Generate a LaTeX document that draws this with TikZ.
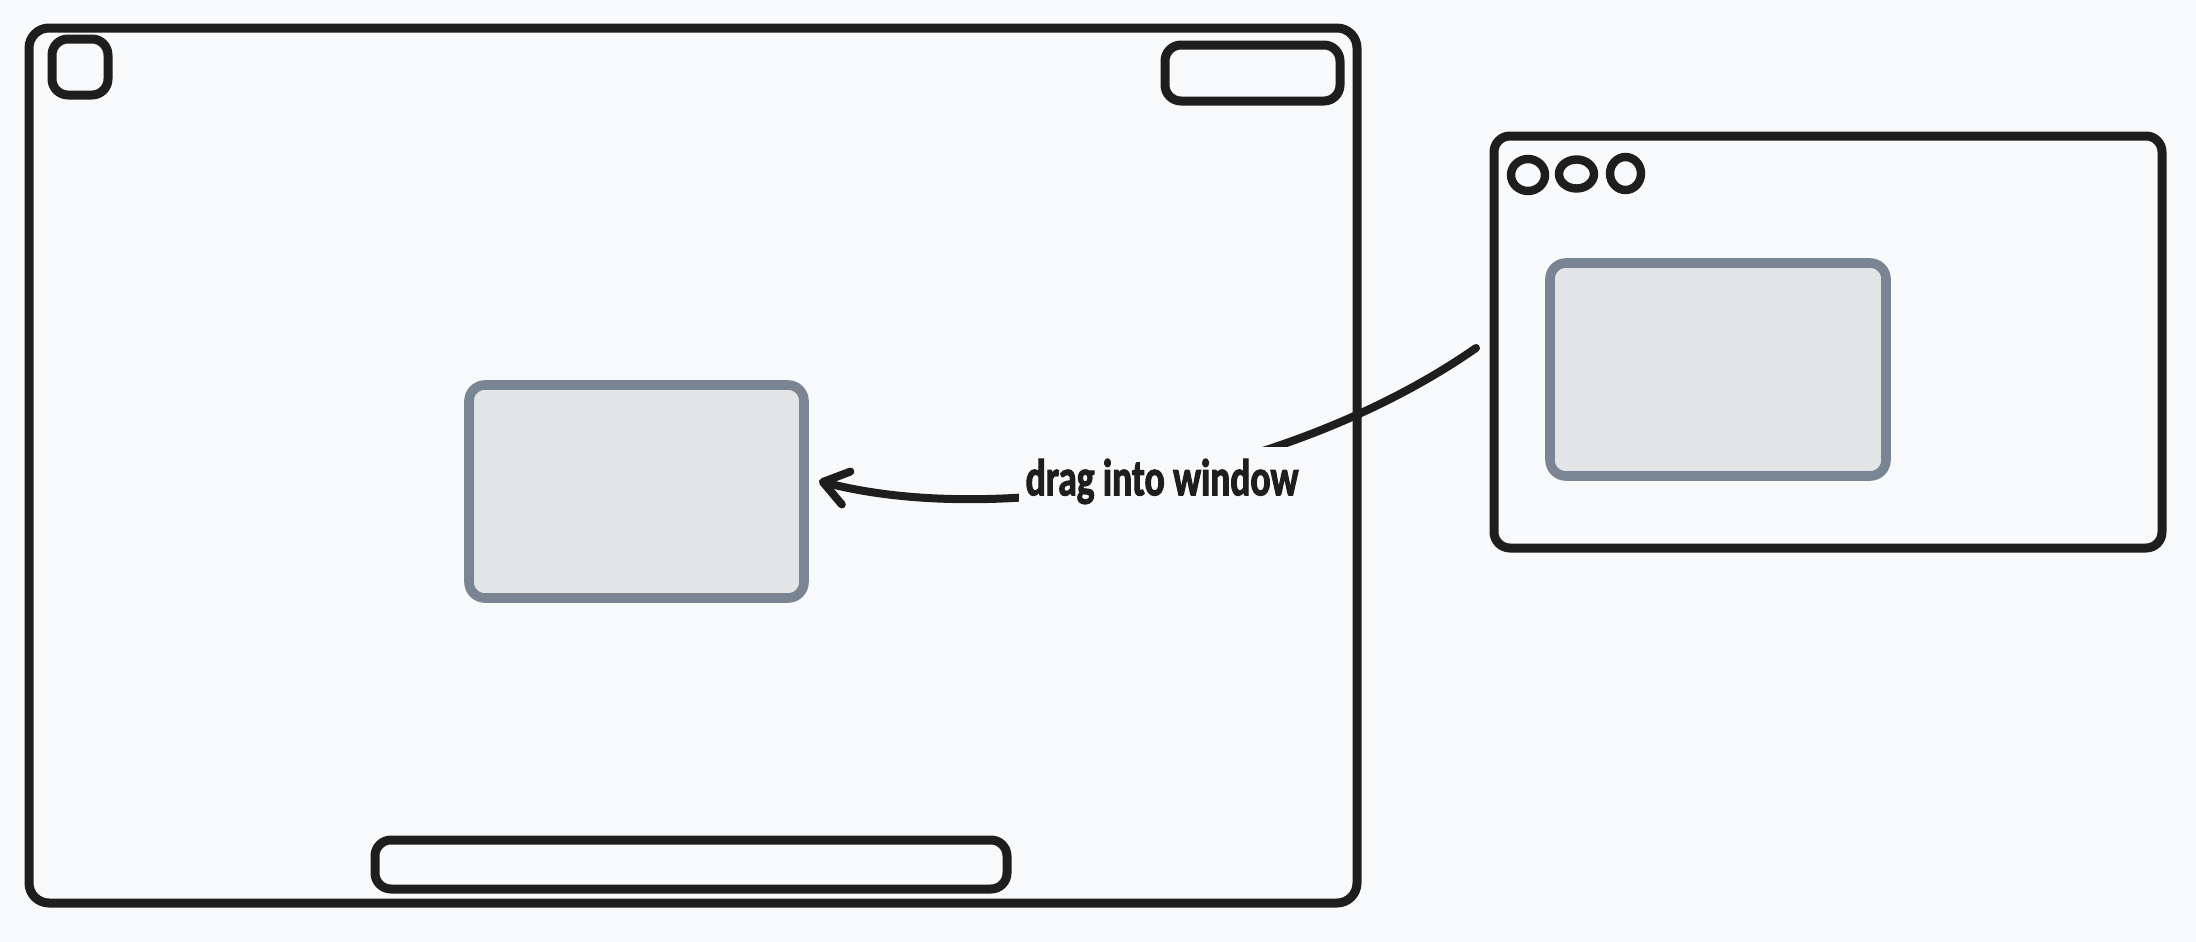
\documentclass[tikz,border=0pt]{standalone}
\usepackage{fontspec}
\usepackage{tikz}
\usetikzlibrary{arrows.meta,shapes.geometric}
\newfontfamily\handfont[FakeStretch=0.72,FakeBold=2]{Carlito Bold}
\definecolor{paper}{HTML}{F8F9FB}
\definecolor{ink}{HTML}{1E1E1E}
\definecolor{slate}{HTML}{7A8594}
\definecolor{tilefill}{HTML}{E2E4E6}
\tikzset{
  frame/.style={draw=ink,line width=4.5pt,inner sep=0pt,rounded corners=#1},
  frame/.default=8pt,
  tile/.style={draw=slate,fill=tilefill,line width=4.8pt,inner sep=0pt,rounded corners=8pt,
    minimum width=167.5pt,minimum height=106.5pt},
  dot/.style={ellipse,draw=ink,line width=4.2pt,inner sep=0pt}
}
\begin{document}
\begin{tikzpicture}[x=0.5pt,y=-0.5pt]
  \path[use as bounding box,fill=paper] (0,0) rectangle (2196,942);

  \node [frame=10pt,minimum width=664pt,minimum height=437.5pt] (screen) at (693,465.5) {};
  \node [frame,minimum width=28pt,minimum height=28pt] (cornerbtn) at (80,67) {};
  \node [frame,minimum width=87.5pt,minimum height=28pt] (topbar) at (1252.5,73) {};
  \node [frame,minimum width=316pt,minimum height=24.5pt] (dockbar) at (691,864.5) {};
  \node [tile] (screentile) at (636.5,491.5) {};

  \node [frame,minimum width=334pt,minimum height=206pt] (window) at (1828,342) {};
  \node [dot,minimum width=17pt,minimum height=16pt] (dot1) at (1528,175) {};
  \node [dot,minimum width=17.5pt,minimum height=14.5pt] (dot2) at (1576.5,174) {};
  \node [dot,minimum width=15.5pt,minimum height=16.5pt] (dot3) at (1625.5,173.5) {};
  \node [tile,minimum width=168pt] (windowtile) at (1718,369.5) {};

  \coordinate (dragstart) at (1476,348);
  \coordinate (dragend) at (819,481);
  \draw[ink,line width=4pt,line cap=round,-{Straight Barb[length=12pt,width=17pt,round]}]
    (dragstart) .. controls (1290,478) and (1000,528) .. (dragend);
  \node [fill=paper,inner sep=0pt,minimum width=143pt,minimum height=34.5pt,text=ink,font=\handfont\fontsize{26}{26}\selectfont] (draglabel) at (1162,481.5) {drag into window};
\end{tikzpicture}
\end{document}
